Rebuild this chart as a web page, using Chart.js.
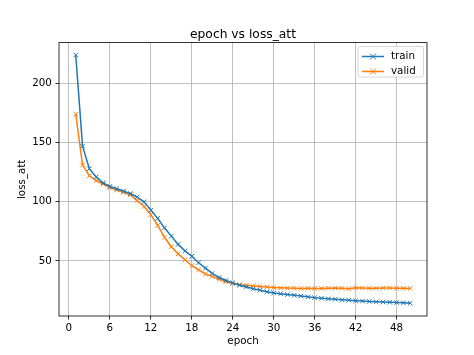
<!DOCTYPE html>
<html>
<head>
<meta charset="utf-8">
<script src="https://cdn.jsdelivr.net/npm/chart.js@4"></script>
<style>
html,body{margin:0;padding:0;background:#fff;}
#wrap{width:474px;height:355px;position:relative;}
</style>
</head>
<body>
<div id="wrap"><canvas id="c" width="474" height="355"></canvas></div>
<script>
const epochs = Array.from({length: 50}, (_, i) => i + 1);
const trainLoss = [224, 147, 128, 121, 116, 113, 111, 109, 107, 104,
  100, 93, 86, 78, 71, 64, 58.5, 54, 48.5, 44,
  39.5, 36, 33.5, 31.5, 29.5, 28, 26.5, 25.3, 24, 23,
  22.3, 21.6, 21, 20.3, 19.7, 19, 18.5, 18, 17.6, 17.2,
  16.8, 16.4, 16.1, 15.8, 15.5, 15.3, 15.1, 14.9, 14.6, 14.3];
const validLoss = [174, 131, 122, 118, 115, 112, 110, 108, 106, 101,
  96, 89, 80, 70, 62, 56, 51, 46, 42.5, 39,
  37, 34.5, 32.5, 31, 30, 29.4, 28.9, 28.4, 28, 27.5,
  27.3, 27.1, 27, 26.8, 26.9, 26.7, 26.8, 27, 27.1, 26.9,
  26.6, 27.3, 27.1, 27, 26.9, 27.1, 27.2, 27, 26.9, 26.8];
const xTicks = [0, 6, 12, 18, 24, 30, 36, 42, 48];
const yTicks = [50, 100, 150, 200];
const seriesNames = ['train', 'valid'];
const titleText = 'epoch vs loss_att';
const xLabel = 'epoch';
const yLabel = 'loss_att';

const C_TRAIN = '#1f77b4', C_VALID = '#ff7f0e';
const FONT = '"DejaVu Sans", sans-serif';

const extras = {
  id: 'extras',
  afterDraw(chart) {
    const ctx = chart.ctx, a = chart.chartArea;
    ctx.save();
    // frame
    ctx.strokeStyle = '#000';
    ctx.lineWidth = 0.8;
    ctx.strokeRect(a.left, a.top, a.right - a.left, a.bottom - a.top);
    // title
    ctx.fillStyle = '#000';
    ctx.font = '12.3px ' + FONT;
    ctx.textAlign = 'center';
    ctx.textBaseline = 'alphabetic';
    ctx.fillText(titleText, (a.left + a.right) / 2, 37.5);
    // axis labels
    ctx.font = '10.3px ' + FONT;
    ctx.textBaseline = 'middle';
    ctx.fillText(xLabel, (a.left + a.right) / 2, 341);
    ctx.save();
    ctx.translate(22, (a.top + a.bottom) / 2);
    ctx.rotate(-Math.PI / 2);
    ctx.fillText(yLabel, 0, 0);
    ctx.restore();
    // legend
    const lx = 358, ly = 46.5, lw = 65.5, lh = 30.5, r = 2.5;
    ctx.beginPath();
    ctx.moveTo(lx + r, ly);
    ctx.arcTo(lx + lw, ly, lx + lw, ly + lh, r);
    ctx.arcTo(lx + lw, ly + lh, lx, ly + lh, r);
    ctx.arcTo(lx, ly + lh, lx, ly, r);
    ctx.arcTo(lx, ly, lx + lw, ly, r);
    ctx.closePath();
    ctx.fillStyle = 'rgba(255,255,255,0.8)';
    ctx.fill();
    ctx.strokeStyle = '#d6d6d6';
    ctx.lineWidth = 1;
    ctx.stroke();
    const cols = [C_TRAIN, C_VALID];
    const rowsY = [56.5, 71.5];
    ctx.textAlign = 'left';
    for (let i = 0; i < 2; i++) {
      const y = rowsY[i];
      ctx.strokeStyle = cols[i];
      ctx.lineWidth = 1.5;
      ctx.beginPath(); ctx.moveTo(362, y); ctx.lineTo(384, y); ctx.stroke();
      ctx.lineWidth = 1;
      ctx.beginPath();
      ctx.moveTo(370, y - 3); ctx.lineTo(376, y + 3);
      ctx.moveTo(370, y + 3); ctx.lineTo(376, y - 3);
      ctx.stroke();
      ctx.fillStyle = '#000';
      ctx.font = '10.3px ' + FONT;
      ctx.fillText(seriesNames[i], 391, y);
    }
    ctx.restore();
  }
};

new Chart(document.getElementById('c'), {
  type: 'line',
  data: {
    datasets: [
      { label: seriesNames[0], data: epochs.map((e, i) => ({x: e, y: trainLoss[i]})),
        borderColor: C_TRAIN, backgroundColor: C_TRAIN, borderWidth: 1.5,
        pointStyle: 'crossRot', pointRadius: 3.2, pointBorderWidth: 1, pointBorderColor: C_TRAIN,
        tension: 0 },
      { label: seriesNames[1], data: epochs.map((e, i) => ({x: e, y: validLoss[i]})),
        borderColor: C_VALID, backgroundColor: C_VALID, borderWidth: 1.5,
        pointStyle: 'crossRot', pointRadius: 3.2, pointBorderWidth: 1, pointBorderColor: C_VALID,
        tension: 0 }
    ]
  },
  options: {
    responsive: false,
    animation: false,
    devicePixelRatio: 1,
    layout: { padding: { left: 0, right: 47, top: 42.6, bottom: 0 } },
    plugins: { legend: { display: false }, title: { display: false }, tooltip: { enabled: false } },
    scales: {
      x: {
        type: 'linear', min: -1.45, max: 52.45,
        afterBuildTicks: s => { s.ticks = xTicks.map(v => ({value: v})); },
        afterFit: s => { s.height = 39; },
        grid: { color: '#b0b0b0', lineWidth: 0.8, tickColor: '#000', tickLength: 3.6, drawTicks: true },
        border: { display: false },
        ticks: { color: '#000', font: { family: FONT, size: 10.3 }, padding: 2.5, maxRotation: 0, autoSkip: false }
      },
      y: {
        type: 'linear', min: 3.5, max: 234.5,
        afterBuildTicks: s => { s.ticks = yTicks.map(v => ({value: v})); },
        afterFit: s => { s.width = 59; },
        grid: { color: '#b0b0b0', lineWidth: 0.8, tickColor: '#000', tickLength: 3.6, drawTicks: true },
        border: { display: false },
        ticks: { color: '#000', font: { family: FONT, size: 10.3 }, padding: 3.5, autoSkip: false }
      }
    }
  },
  plugins: [extras]
});
</script>
</body>
</html>
